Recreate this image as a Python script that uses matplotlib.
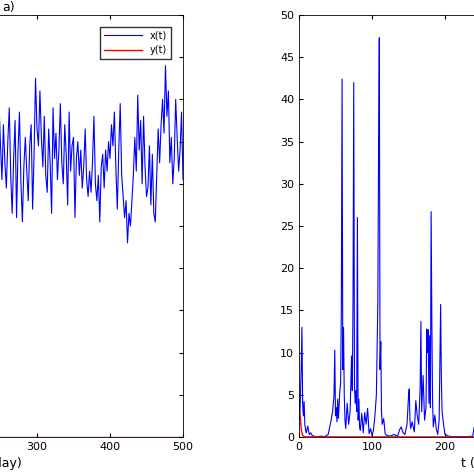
import matplotlib
matplotlib.use("Agg")
import matplotlib.pyplot as plt
import numpy as np

# Left panel: x(t), t = 240..500 step 2
left_t = list(range(240, 502, 2))
left_x = [7.2,6.8,7.6,6.4,7.9,6.9,6.1,7.4,6.5,5.9,7.0,7.8,6.2,5.3,6.6,7.5,5.2,6.8,7.7,6.0,
          5.1,6.4,7.1,6.3,5.6,6.9,7.4,5.4,6.7,8.5,7.3,6.9,8.2,7.1,6.4,7.6,6.2,5.8,7.3,6.5,
          5.3,7.8,6.6,7.2,6.1,6.8,7.9,6.5,6.0,7.4,6.7,5.5,7.7,6.3,6.9,7.1,5.2,6.6,7.0,6.2,
          6.8,5.9,6.4,7.3,6.1,5.7,6.3,5.8,6.5,7.6,6.0,5.6,6.2,5.1,6.4,6.7,5.9,6.8,6.3,7.0,
          6.6,7.4,6.9,7.7,6.4,5.4,6.8,7.9,6.2,5.7,5.2,5.6,4.6,5.3,5.0,5.6,6.2,7.1,6.3,8.1,
          6.8,7.5,6.0,7.6,6.4,5.7,5.9,6.9,5.5,6.7,5.3,5.1,6.2,7.3,6.5,7.4,8.0,7.2,8.8,7.6,
          8.2,6.5,7.1,6.0,6.6,8.0,7.1,6.3,6.8,7.7,6.1]
left_y = [0.0]*len(left_t)

# Right panel
right_t = [0,1,2,3,4,5,6,7,8,9,10,12,14,16,18,20,25,30,35,40,44,46,48,49,50,51,52,53,54,55,56,57,58,59,60,61,62,63,64,66,68,70,72,73,74,75,76,77,78,79,80,81,82,83,84,86,88,90,92,94,96,98,100,102,104,106,108,109,110,111,112,113,114,116,118,120,125,130,135,138,140,142,145,148,150,151,152,153,155,158,160,162,164,166,167,168,170,172,174,175,176,177,178,179,180,181,182,183,184,186,188,190,192,194,195,196,198,200,205,210,220,230,238,240,242,245,250,300,350,400,450,500]
right_x = [4.5,2.0,5.0,8.0,13.0,4.0,2.5,4.2,1.5,0.8,0.5,1.3,0.3,0.5,0.2,0.1,0.05,0.1,0.05,0.3,2.0,3.0,5.0,10.3,2.5,3.5,1.8,4.5,2.2,3.8,5.5,6.5,15.0,42.4,8.0,13.0,5.0,2.0,1.0,4.0,1.5,3.0,9.6,5.5,16.0,42.0,6.0,4.0,5.5,3.0,26.0,2.0,4.5,1.2,0.8,2.8,0.5,2.9,1.5,3.4,0.4,1.0,0.2,0.8,2.5,5.0,16.0,34.0,47.3,8.0,11.3,3.0,1.5,2.2,0.4,0.2,0.1,0.3,0.1,0.9,1.2,0.6,0.3,1.5,4.8,5.7,2.0,1.0,1.8,0.6,4.3,2.5,1.5,6.0,13.7,3.0,7.3,2.0,3.5,12.8,10.0,12.7,4.0,12.0,3.5,26.7,13.5,4.0,1.2,2.6,1.0,0.3,2.0,15.7,7.0,3.0,1.5,0.3,0.1,0.05,0.05,0.05,0.1,1.2,0.5,0.1,0.05,0.5,0.3,0.4,0.2,0.3]
right_yt = [0,1,2,3,4,5,6,8,500]
right_y = [3.2,2.8,2.0,1.0,0.5,0.2,0.1,0.02,0.0]

W = 474
fig = plt.figure(figsize=(4.74, 4.74), dpi=100)
ax1 = fig.add_axes([-182/W, 37/W, 365/W, 422/W])
ax2 = fig.add_axes([299/W, 37/W, 365/W, 422/W])

ax1.plot(left_t, left_x, color="#0000ff", lw=0.8, label="x(t)")
ax1.plot(left_t, left_y, color="#ff0000", lw=1.0, label="y(t)")
ax1.set_xlim(0, 500)
ax1.set_ylim(0, 10)
ax1.set_xticks([0, 100, 200, 300, 400, 500])
ax1.set_yticks(range(0, 11))
ax1.set_xlabel("t (day)", fontsize=9)
ax1.set_title("(a)", loc="left", fontsize=9, x=-0.0, y=1.0, pad=2)
ax1.legend(loc="upper right", fontsize=7, frameon=True, fancybox=False,
           edgecolor="black", handlelength=4, borderaxespad=1.2)

ax2.plot(right_t, right_x, color="#0000ff", lw=0.8)
ax2.plot(right_yt, right_y, color="#ff0000", lw=1.0)
ax2.set_xlim(0, 500)
ax2.set_ylim(0, 50)
ax2.set_xticks([0, 100, 200, 300, 400, 500])
ax2.set_yticks(range(0, 51, 5))
ax2.set_xlabel("t (day)", fontsize=9)

for ax in (ax1, ax2):
    ax.tick_params(direction="in", labelsize=8, top=True, right=True, length=3)
    for s in ax.spines.values():
        s.set_linewidth(0.6)

fig.text(2/W, 1-7/W, "a)", fontsize=9, va="center", ha="left")
ax1.title.set_visible(False)
fig.savefig("out.png", dpi=100)
